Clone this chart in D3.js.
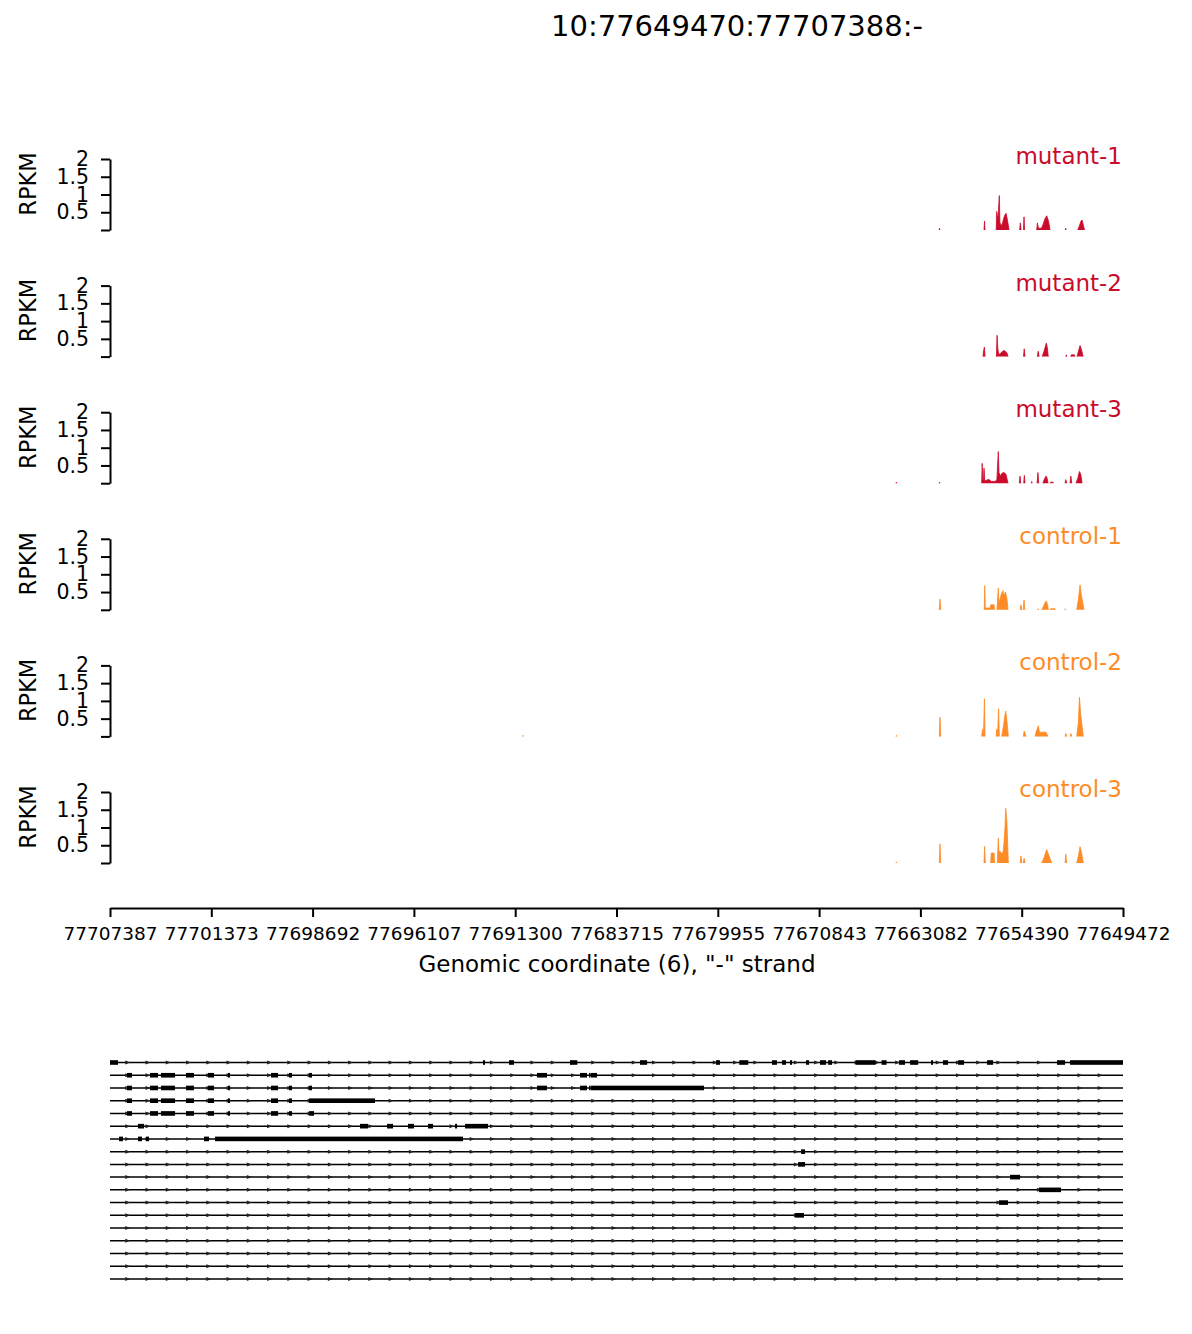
<!DOCTYPE html>
<html><head><meta charset="utf-8">
<script src="https://cdn.jsdelivr.net/npm/d3@7"></script>
<style>
html,body{margin:0;padding:0;background:#fff;}
svg{display:block;font-family:"DejaVu Sans",sans-serif;}
</style></head>
<body>
<svg id="chart" width="1192" height="1334"></svg>
<script>
// ---------------- data ----------------
const title = "10:77649470:77707388:-";
const xLabel = 'Genomic coordinate (6), "-" strand';
const xTickPositions = [0, 100, 200, 300, 400, 500, 600, 700, 800, 900, 1000];
const xTickLabels = ["77707387","77701373","77698692","77696107","77691300","77683715","77679955","77670843","77663082","77654390","77649472"];
const yTickValues = [0, 0.5, 1, 1.5, 2];
const yTickLabels = ["", "0.5", "1", "1.5", "2"];
const sampleNames = ["mutant-1","mutant-2","mutant-3","control-1","control-2","control-3"];
const sampleGroups = ["mutant","mutant","mutant","control","control","control"];

// coverage [position, RPKM]
const mutant1 = [
[818.5,0],[818.9,0.05],[819.3,0],
[862.8,0],[863.3,0.25],[863.8,0],
[874.8,0],[875.3,0.52],[876.5,0.3],[877.9,0.97],[878.5,0.2],[880.3,0.12],[881.5,0.25],[883,0.4],[884.5,0.47],[885.8,0.3],[887.5,0],
[898.0,0],[898.6,0.2],[899.4,0],
[901.8,0],[902.3,0.37],[902.8,0],
[914.8,0],[915.5,0.2],[916.5,0.05],[919.5,0.05],[921,0.15],[923,0.32],[924.7,0.4],[926.5,0.25],[928,0],
[943,0],[943.4,0.05],[943.8,0],
[955.3,0],[957,0.12],[958.5,0.25],[959.6,0.28],[960.8,0.15],[962,0]
];
const mutant2 = [
[861.8,0],[862.3,0.15],[863.2,0.27],[863.8,0],
[875.0,0],[875.7,0.6],[876.5,0.2],[877.5,0.05],[878.6,0.08],[880,0.12],[882,0.17],[884,0.15],[885.5,0.1],[886.5,0],
[901.8,0],[902.5,0.22],[903.3,0],
[915.4,0],[916.3,0.15],[917.2,0],
[920.2,0],[922,0.15],[924.3,0.38],[925.3,0.25],[926.2,0],
[943.6,0],[944,0.05],[944.5,0],
[948.4,0],[949,0.05],[952,0.05],[952.6,0],
[954.6,0],[956,0.15],[957.6,0.31],[959,0.2],[960.6,0]
];
const mutant3 = [
[775.8,0],[776.3,0.03],[776.8,0],
[818.5,0],[818.9,0.03],[819.3,0],
[860.5,0],[861.0,0.56],[861.6,0.1],[862.3,0.1],[862.8,0.42],[863.5,0.08],[864.8,0.07],[866,0.1],[868,0.1],[870,0.05],[873.7,0.05],[875.5,0.1],[876.9,0.89],[877.6,0.3],[879,0.2],[880.5,0.28],[882.5,0.3],[884.5,0.25],[886.5,0],
[897.7,0],[898.3,0.2],[899.1,0],
[902.0,0],[902.6,0.22],[903.3,0],
[909.6,0],[909.9,0.05],[910.3,0],
[915.2,0],[916,0.3],[916.8,0],
[920.8,0],[922.5,0.12],[924,0.2],[925,0.15],[926,0],
[928,0],[928.5,0.03],[930.9,0.03],[931.2,0],
[942.8,0],[943.5,0.1],[944.4,0],
[947.7,0],[948.5,0.2],[949.4,0],
[953.6,0],[955.5,0.15],[957,0.33],[958.3,0.25],[959.6,0]
];
const control1 = [
[818.7,0],[819.3,0.3],[820.1,0],
[863.0,0],[863.5,0.68],[864.1,0.05],[868.7,0.05],[869.4,0.14],[872.7,0.14],[873.2,0],
[875.6,0],[876.2,0.3],[876.9,0.61],[877.6,0.2],[878.6,0.3],[880,0.45],[881.5,0.54],[882.6,0.4],[884,0.5],[885.5,0.3],[886.5,0],
[898.4,0],[899.2,0.14],[900.1,0],
[901.6,0],[902.3,0.28],[903.0,0],
[915.8,0],[916.2,0.03],[916.6,0],
[919.8,0],[921.5,0.1],[923,0.2],[924.3,0.25],[925.5,0.15],[926.3,0],
[928,0],[928.5,0.03],[932.9,0.03],[933.2,0],
[942.6,0],[942.9,0.03],[943.3,0],
[954.3,0],[956,0.3],[957.6,0.7],[959,0.4],[961.5,0]
];
const control2 = [
[407.4,0],[407.7,0.03],[408.1,0],
[775.8,0],[776.3,0.03],[776.8,0],
[818.7,0],[819.3,0.54],[820.1,0],
[860.5,0],[861.3,0.2],[862.3,0.05],[863.2,1.06],[863.8,0],
[874.8,0],[875.3,0.2],[875.9,0.05],[876.6,0.3],[877.2,0.78],[877.9,0],
[880.3,0],[882,0.3],[883.5,0.6],[884.2,0.71],[885.2,0.5],[886.8,0],
[901.6,0],[902.5,0.15],[904.3,0],
[913.2,0],[914,0.1],[916.4,0.3],[917.5,0.12],[921,0.12],[924,0.12],[926,0],
[942.8,0],[943.5,0.08],[944.5,0],[948,0],[948.6,0.08],[949.4,0],
[954.3,0],[956,0.4],[957,1.1],[958.3,0.6],[960.8,0]
];
const control3 = [
[775.8,0],[776.3,0.03],[776.8,0],
[818.7,0],[819.3,0.54],[820.1,0],
[862.8,0],[863.4,0.47],[864.1,0],
[869.4,0],[870,0.28],[872.7,0.28],[873.2,0],
[875.9,0],[876.9,0.7],[877.6,0.3],[878.6,0.33],[880.5,0.25],[881.8,0.33],[882.6,0.6],[883.5,1.0],[884.2,1.54],[885.3,1.2],[886.8,0],
[898.4,0],[899.2,0.2],[900.1,0],
[901.6,0],[902.4,0.13],[903.3,0],
[919.8,0],[922,0.15],[924.7,0.38],[927,0.2],[929.6,0],
[942.8,0],[943.5,0.25],[944.4,0],
[954.3,0],[956,0.2],[957.6,0.46],[959,0.3],[960.8,0]
];
const coverage = [mutant1, mutant2, mutant3, control1, control2, control3];

// transcript exons [start, end] in the same compressed coordinate
const sharedExons = [[16.8,21.7],[39.5,47.4],[50.3,64.2],[75.0,82.9],[96.7,102.7],[116.5,118.5],[158.9,165.9],[176.7,179.7]];
const transcripts = [
  [[0,7.9],[368.2,370.2],[393.9,398.8],[454.1,461.3],[523.2,530.2],[598.2,602.2],[621.2,630.1],[653.5,658.4],[663.4,667.3],[671.3,673.3],[687.1,690.1],[700.9,706.9],[708.9,712.8],[736.0,755.7],[761.7,766.6],[778.9,784.8],[789.8,797.7],[810.5,812.5],[822.3,827.3],[837.2,843.1],[865.8,871.7],[934.9,942.8],[947.7,1000]],
  sharedExons.concat([[196.5,199.4],[421.5,431.4],[464.0,470.9],[472.9,473.9],[474.8,480.8]]),
  sharedExons.concat([[196.5,199.4],[421.5,431.4],[464.0,470.9],[472.9,473.9],[474.8,586.4]]),
  sharedExons.concat([[196.5,261.6]]),
  sharedExons.concat([[196.5,201.4]]),
  [[27.6,33.6],[246.8,254.7],[273.5,279.4],[294.2,300.1],[313.9,318.9],[340.6,342.6],[350.5,373.2]],
  [[8.9,12.8],[27.6,31.6],[35.5,38.5],[92.8,97.7],[103.7,348.5]],
  [[682.2,686.1]],
  [[679.2,686.1]],
  [[888.5,898.4]],
  [[917.1,938.8]],
  [[877.6,886.5]],
  [[676.2,685.1]],
  [],[],[],[],[]
];

// ---------------- drawing ----------------
const colors = {mutant:"#ca0b2b", control:"#fd8c26"};
const svg = d3.select("#chart");
const x = d3.scaleLinear().domain([0,1000]).range([110,1123]);

svg.append("text").attr("x",737).attr("y",36).attr("text-anchor","middle")
  .attr("font-size",29).attr("fill","#000").text(title);

// split a coverage list into separate covered islands (runs between zeros)
function islands(pts){
  const out = []; let cur = [];
  pts.forEach((p,i)=>{
    cur.push(p);
    if (p[1] === 0 && cur.length > 1) { out.push(cur); cur = []; }
  });
  if (cur.length > 1) out.push(cur);
  return out;
}

const trackBase0 = 230, trackStep = 126.6, trackH = 71;
coverage.forEach((pts,i)=>{
  const base = trackBase0 + i*trackStep;
  const y = d3.scaleLinear().domain([0,2]).range([base, base-trackH]);
  const col = colors[sampleGroups[i]];
  const g = svg.append("g");
  const area = d3.area().x(d=>x(d[0])).y0(y(0)).y1(d=>y(d[1]));
  const line = d3.line().x(d=>x(d[0])).y(d=>y(d[1]));
  const isl = islands(pts);
  g.selectAll("path.a").data(isl).enter().append("path").attr("d",area).attr("fill",col);
  g.selectAll("path.l").data(isl).enter().append("path").attr("d",line)
    .attr("fill","none").attr("stroke",col).attr("stroke-width",0.8);
  const ax = d3.axisLeft(y).tickValues(yTickValues)
    .tickFormat((d,k)=>yTickLabels[k]).tickSize(9).tickSizeOuter(0).tickPadding(12);
  const ag = svg.append("g").attr("transform",`translate(${x(0)},0)`).call(ax);
  ag.select(".domain").attr("stroke","#000").attr("stroke-width",2);
  ag.selectAll(".tick line").attr("stroke","#000").attr("stroke-width",2);
  ag.selectAll(".tick text").attr("font-size",20.5).attr("fill","#000")
    .attr("font-family","DejaVu Sans");
  svg.append("text").attr("transform",`translate(36,${base-46}) rotate(-90)`)
    .attr("text-anchor","middle").attr("font-size",22.5).attr("fill","#000").text("RPKM");
  svg.append("text").attr("x",1122).attr("y",base-66).attr("text-anchor","end")
    .attr("font-size",23).attr("fill",col).text(sampleNames[i]);
});

// x axis
const xa = d3.axisBottom(x).tickValues(xTickPositions)
  .tickFormat((d,k)=>xTickLabels[k]).tickSize(9).tickSizeOuter(0).tickPadding(10);
const xg = svg.append("g").attr("transform","translate(0,908)").call(xa);
xg.select(".domain").attr("stroke","#000").attr("stroke-width",2);
xg.selectAll(".tick line").attr("stroke","#000").attr("stroke-width",2);
xg.selectAll(".tick text").attr("font-size",18.5).attr("fill","#000").attr("font-family","DejaVu Sans");
svg.append("text").attr("x",617).attr("y",972).attr("text-anchor","middle")
  .attr("font-size",23).attr("fill","#000").text(xLabel);

// gene models
const rowY = d3.scalePoint().domain(d3.range(transcripts.length)).range([1062.5,1279]);
const arrowPos = d3.range(20,1000,20);
transcripts.forEach((ex,r)=>{
  const yy = rowY(r);
  const g = svg.append("g");
  g.append("line").attr("x1",x(0)).attr("x2",x(1000)).attr("y1",yy).attr("y2",yy)
    .attr("stroke","#000").attr("stroke-width",1.5);
  g.selectAll("path.arr").data(arrowPos).enter().append("path")
    .attr("d",d=>`M${x(d)-5},${yy-2} L${x(d)},${yy} L${x(d)-5},${yy+2} Z`)
    .attr("fill","#222");
  g.selectAll("rect").data(ex).enter().append("rect")
    .attr("x",d=>x(d[0])).attr("width",d=>Math.max(1.5,x(d[1])-x(d[0])))
    .attr("y",yy-2.3).attr("height",4.6).attr("fill","#000");
});
</script>
</body></html>
